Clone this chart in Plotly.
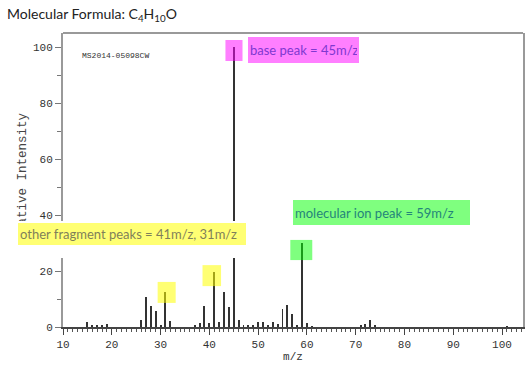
import plotly.graph_objects as go

# ---- data ----
mz = [15, 16, 17, 18, 19, 26, 27, 28, 29, 30, 31, 32, 37, 38, 39, 40, 41, 42, 43, 44,
      45, 46, 47, 48, 49, 50, 51, 52, 53, 54, 55, 56, 57, 58, 59, 60, 61, 71, 72, 73, 74, 101]
intensity = [1.8, 0.5, 0.4, 0.6, 1.2, 2.5, 10.7, 7.5, 5.6, 0.7, 12.5, 2.3, 0.8, 1.4, 7.5, 1.4, 19.8, 1.9, 12.4, 7.3,
             100, 2.5, 0.4, 0.4, 0.5, 1.7, 1.7, 0.6, 1.9, 1.0, 6.5, 8.0, 4.6, 0.8, 30.0, 1.3, 0.3, 0.6, 0.9, 2.6, 0.5, 0.3]
x_ticks = [10, 20, 30, 40, 50, 60, 70, 80, 90, 100]
y_ticks = [0, 20, 40, 60, 80, 100]
mid_ticks = [15, 25, 35, 45, 55, 65, 75, 85, 95]

MONO = "Liberation Mono, Courier New, monospace"
SANS = "Lato, Open Sans, sans-serif"

fig = go.Figure()
fig.add_trace(go.Bar(x=mz, y=intensity, width=0.2,
                     marker=dict(color="#333333", line=dict(width=0)),
                     showlegend=False, hoverinfo="x+y"))

L, R, T, B = 63, 8, 33, 40
W, H = 531, 367
PW, PH = W - L - R, H - T - B


def px(xp):
    return (xp - L) / PW


def py(yp):
    return (H - B - yp) / PH


fig.update_layout(
    width=W, height=H,
    margin=dict(l=L, r=R, t=T, b=B, autoexpand=False),
    plot_bgcolor="white", paper_bgcolor="white",
    bargap=0,
    xaxis=dict(range=[10, 104.3], tickvals=x_ticks, ticktext=[str(v) for v in x_ticks],
               automargin=False,
               ticks="outside", ticklen=6, tickcolor="#444", tickwidth=1,
               minor=dict(dtick=1, tick0=10, ticks="outside", ticklen=3, tickcolor="#555", tickwidth=1),
               showline=True, linecolor="#444", linewidth=1.5, showgrid=False, zeroline=False,
               tickfont=dict(family=MONO, size=11, color="#333"),
               title=dict(text="m/z", font=dict(family=MONO, size=11, color="#333"), standoff=2)),
    xaxis2=dict(overlaying="x", matches="x", anchor="y", tickvals=mid_ticks, ticks="outside",
                ticklen=5, tickcolor="#444", tickwidth=1, showticklabels=False, showline=False,
                showgrid=False, zeroline=False, side="bottom", automargin=False),
    yaxis=dict(range=[0, 105], tickvals=y_ticks, ticktext=[str(v) for v in y_ticks],
               automargin=False,
               ticks="outside", ticklen=6, tickcolor="#777", tickwidth=1,
               minor=dict(dtick=10, tick0=0, ticks="outside", ticklen=4, tickcolor="#777", tickwidth=1),
               showline=True, linecolor="#999", linewidth=2, mirror=True,
               showgrid=False, zeroline=False,
               tickfont=dict(family=MONO, size=11, color="#333")),
)

shapes = [
    # top frame
    dict(type="line", xref="paper", yref="paper", x0=0, x1=1, y0=1, y1=1,
         line=dict(color="#999", width=2), layer="above"),
    # highlight squares around peaks
    dict(type="rect", xref="x", yref="y", x0=43.3, x1=46.8, y0=95, y1=102.5,
         fillcolor="rgba(255,0,255,0.5)", line=dict(width=0), layer="above"),
    dict(type="rect", xref="x", yref="y", x0=29.4, x1=33.1, y0=8.6, y1=16.1,
         fillcolor="rgba(255,255,0,0.55)", line=dict(width=0), layer="above"),
    dict(type="rect", xref="x", yref="y", x0=38.6, x1=42.4, y0=14.6, y1=22.1,
         fillcolor="rgba(255,255,0,0.55)", line=dict(width=0), layer="above"),
    dict(type="rect", xref="x", yref="y", x0=56.6, x1=61.1, y0=23.9, y1=31.1,
         fillcolor="rgba(0,255,0,0.5)", line=dict(width=0), layer="above"),
]
fig.update_layout(shapes=shapes)

annotations = [
    # title
    dict(text="Molecular Formula: C<sub>4</sub>H<sub>10</sub>O", xref="paper", yref="paper",
         x=px(5), y=py(3), xanchor="left", yanchor="top", showarrow=False,
         font=dict(family=SANS, size=14, color="#222")),
    # sample id
    dict(text="MS2014-05098CW", xref="paper", yref="paper", x=px(80), y=py(56),
         xanchor="left", yanchor="middle", showarrow=False,
         font=dict(family=MONO, size=8, color="#333")),
    # y axis title
    dict(text="Relative Intensity", xref="paper", yref="paper", x=px(23), y=0.5,
         xanchor="center", yanchor="middle", textangle=-90, showarrow=False,
         font=dict(family=MONO, size=12.5, color="#444")),
    # white backing of pasted label
    dict(text=" ", xref="paper", yref="paper", x=px(0), y=py(221), xanchor="left", yanchor="top",
         width=250, height=37, bgcolor="white", borderpad=0, borderwidth=0, showarrow=False),
    # labels
    dict(text="other fragment peaks = 41m/z, 31m/z", xref="paper", yref="paper",
         x=px(18), y=py(223), xanchor="left", yanchor="top", width=224, height=18, align="left",
         bgcolor="rgba(255,255,0,0.55)", borderpad=2, borderwidth=0, showarrow=False,
         font=dict(family=SANS, size=13, color="#7f7f5a")),
    dict(text="base peak = 45m/z", xref="paper", yref="paper",
         x=px(248), y=py(37), xanchor="left", yanchor="top", width=107, height=22, align="left",
         bgcolor="rgba(255,0,255,0.5)", borderpad=2, borderwidth=0, showarrow=False,
         font=dict(family=SANS, size=13, color="#8038d0")),
    dict(text="molecular ion peak = 59m/z", xref="paper", yref="paper",
         x=px(293), y=py(200), xanchor="left", yanchor="top", width=173, height=21, align="left",
         bgcolor="rgba(0,255,0,0.5)", borderpad=2, borderwidth=0, showarrow=False,
         font=dict(family=SANS, size=13, color="#24857a")),
]
fig.update_layout(annotations=annotations)

fig.write_html("out.html", config={"displayModeBar": False},
               post_script="document.body.style.margin='0';document.body.style.padding='0';")
